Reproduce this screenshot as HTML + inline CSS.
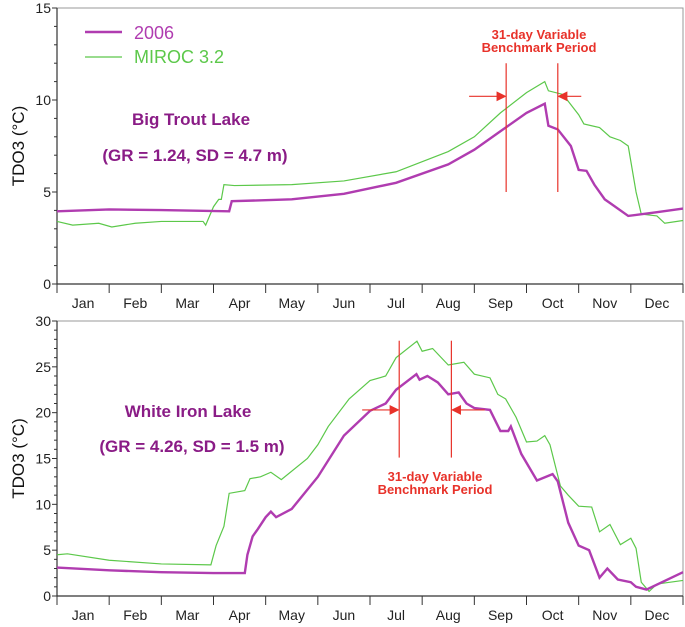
<!DOCTYPE html>
<html><head><meta charset="utf-8"><style>
body{margin:0;background:#fff;}
svg{display:block;font-family:"Liberation Sans",sans-serif;}
</style></head><body>
<svg id="chart" width="685" height="627" viewBox="0 0 685 627"></svg>
<script>
const months=["Jan","Feb","Mar","Apr","May","Jun","Jul","Aug","Sep","Oct","Nov","Dec"];
const topTicks=[0,5,10,15];
const botTicks=[0,5,10,15,20,25,30];
// [month position, value]
const top2006=[[0,3.95],[1,4.05],[2,4.02],[3.3,3.95],[3.35,4.5],[4.5,4.6],[5.5,4.9],[6.5,5.5],[7.5,6.5],[8,7.3],[8.5,8.3],[9,9.3],[9.35,9.8],[9.42,8.6],[9.6,8.4],[9.85,7.5],[10,6.2],[10.15,6.15],[10.3,5.4],[10.5,4.6],[10.6,4.4],[10.95,3.7],[11.5,3.9],[12,4.1]];
const topMiroc=[[0,3.4],[0.3,3.2],[0.8,3.3],[1.05,3.1],[1.5,3.3],[2,3.4],[2.8,3.4],[2.85,3.2],[3,4.2],[3.1,4.6],[3.15,4.6],[3.2,5.4],[3.4,5.35],[4.5,5.4],[5.5,5.6],[6.5,6.1],[7.5,7.2],[8,8],[8.5,9.3],[9,10.4],[9.35,11],[9.42,10.5],[9.7,10.3],[10,9.2],[10.1,8.7],[10.4,8.5],[10.6,8],[10.8,7.8],[10.95,7.5],[11.1,5],[11.2,3.8],[11.5,3.7],[11.65,3.3],[12,3.45]];
const bot2006=[[0,3.1],[1,2.8],[2,2.6],[3,2.5],[3.6,2.5],[3.65,4.5],[3.75,6.5],[3.85,7.3],[4,8.6],[4.1,9.2],[4.2,8.6],[4.5,9.5],[5,13],[5.5,17.5],[6,20.2],[6.3,21],[6.5,22.5],[6.89,24.2],[6.95,23.6],[7.1,24],[7.3,23.3],[7.5,22],[7.7,22.2],[7.85,21],[8,20.5],[8.3,20.3],[8.5,18],[8.65,18],[8.7,18.5],[8.9,15.5],[9.2,12.6],[9.5,13.3],[9.6,12.5],[9.8,8],[10,5.5],[10.2,5],[10.4,2],[10.55,3],[10.75,1.8],[11,1.5],[11.1,1],[11.3,0.7],[12,2.6]];
const botMiroc=[[0,4.5],[0.2,4.6],[1,3.9],[2,3.5],[2.95,3.4],[3.05,5.5],[3.2,7.6],[3.3,11.2],[3.6,11.5],[3.7,12.8],[3.9,13],[4.1,13.5],[4.3,12.7],[4.8,15],[5,16.5],[5.2,18.5],[5.6,21.5],[6,23.5],[6.3,24],[6.5,26],[6.9,27.8],[7,26.7],[7.2,27],[7.5,25.2],[7.8,25.5],[8,24.2],[8.3,23.8],[8.45,22],[8.6,21.5],[8.8,19.5],[9,16.8],[9.2,16.9],[9.35,17.5],[9.45,16.5],[9.65,12],[9.8,11],[10,9.8],[10.25,9.7],[10.4,7],[10.6,7.8],[10.8,5.6],[11,6.3],[11.1,5.2],[11.2,1.5],[11.35,0.5],[11.5,1.3],[12,1.7]];
const topBench=[8.61,9.6];
const botBench=[6.56,7.56];

const NS="http://www.w3.org/2000/svg";
const svg=document.getElementById('chart');
function el(tag,attrs,parent){const e=document.createElementNS(NS,tag);for(const k in attrs)e.setAttribute(k,attrs[k]);(parent||svg).appendChild(e);return e;}
const X0=57,X1=683;
function xs(m){return X0+m*(X1-X0)/12;}

function panel(name,yTop,yBot,vmax,ticks,s1,s2,bench,benchTop,benchBot,arrowY,arrL,arrR){
  const g=el('g',{});
  
  
  const ys=v=>yBot-v*(yBot-yTop)/vmax;
  const fr=el('rect',{x:X0,y:yTop,width:X1-X0,height:yBot-yTop,fill:'none',stroke:'#999','stroke-width':1},g);
  
  const ax=el('path',{d:`M${X0},${yTop}V${yBot}H${X1}`,stroke:'#333','stroke-width':1.2,fill:'none'},g);
  
  for(let v=0;v<=vmax;v++){const y=ys(v);const maj=v%5===0;
    el('line',{x1:X0-(maj?5:3),x2:X0,y1:y,y2:y,stroke:'#333','stroke-width':1},g);}
  ticks.forEach(v=>{const t=el('text',{x:X0-6,y:ys(v)+5,'text-anchor':'end','font-size':14,fill:'#222'},g);t.textContent=v;
    });
  for(let i=0;i<=12;i++){el('line',{x1:xs(i),x2:xs(i),y1:yBot,y2:yBot+9,stroke:'#333','stroke-width':1},g);}
  months.forEach((m,i)=>{const t=el('text',{x:xs(i+0.5),y:yBot+24,'text-anchor':'middle','font-size':14,fill:'#222'},g);t.textContent=m;
    });
  const yl=el('text',{x:0,y:0,transform:`translate(24,${(yTop+yBot)/2}) rotate(-90)`,'text-anchor':'middle','font-size':17,fill:'#111'},g);
  yl.textContent='TDO3 (°C)';
  const p2=el('polyline',{points:s2.map(p=>xs(p[0])+','+ys(p[1])).join(' '),fill:'none',stroke:'#5cc84a','stroke-width':1.2},g);
  
  const p1=el('polyline',{points:s1.map(p=>xs(p[0])+','+ys(p[1])).join(' '),fill:'none',stroke:'#b03cb0','stroke-width':2.4},g);
  
  bench.forEach(b=>{const l=el('line',{x1:xs(b),x2:xs(b),y1:ys(benchTop),y2:ys(benchBot),stroke:'#e8322a','stroke-width':1.2},g);
    });
  const ay=ys(arrowY);
  const a1=el('path',{d:`M${xs(arrL)},${ay}H${xs(bench[0])-1} M${xs(bench[0])-1},${ay} l-8,-4 v8 z`,stroke:'#e8322a',fill:'#e8322a','stroke-width':1.2},g);
  
  const a2=el('path',{d:`M${xs(arrR)},${ay}H${xs(bench[1])+1} M${xs(bench[1])+1},${ay} l8,-4 v8 z`,stroke:'#e8322a',fill:'#e8322a','stroke-width':1.2},g);
  
  return ys;
}
panel('top-panel',8,284,15,topTicks,top2006,topMiroc,topBench,12,5,10.2,7.9,10.05);
panel('bottom-panel',321,596,30,botTicks,bot2006,botMiroc,botBench,27.85,15.1,20.3,5.85,8.2);

function txt(name,x,y,s,size,fill,weight,anchor){const t=el('text',{x:x,y:y,'font-size':size,fill:fill,'font-weight':weight||'normal','text-anchor':anchor||'middle'});t.textContent=s;
  return t;}
// legend
const l1=el('line',{x1:85,x2:122,y1:32,y2:32,stroke:'#b03cb0','stroke-width':2.4});

const l2=el('line',{x1:85,x2:122,y1:57,y2:57,stroke:'#5cc84a','stroke-width':1.2});

txt('legend-2006-label',134,39,'2006',18,'#b03cb0','normal','start');
txt('legend-miroc-label',134,63,'MIROC 3.2',18,'#5cc84a','normal','start');
const purple='#8a1c86',red='#e8322a';
txt('big-trout-lake-title',191,125,'Big Trout Lake',17,purple,'bold');
txt('big-trout-lake-params',195,161,'(GR = 1.24, SD = 4.7 m)',17,purple,'bold');
txt('benchmark-label-top-1',539,39,'31-day  Variable',13,red,'bold');
txt('benchmark-label-top-2',539,52,'Benchmark Period',13,red,'bold');
txt('white-iron-lake-title',188,417,'White Iron Lake',17,purple,'bold');
txt('white-iron-lake-params',192,452,'(GR = 4.26, SD = 1.5 m)',17,purple,'bold');
txt('benchmark-label-bottom-1',435,481,'31-day Variable',13,red,'bold');
txt('benchmark-label-bottom-2',435,494,'Benchmark Period',13,red,'bold');
</script>
</body></html>
